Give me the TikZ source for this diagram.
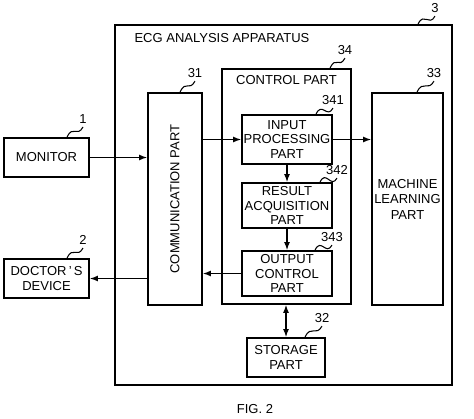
\documentclass[tikz,border=0pt]{standalone}
\usepackage{fontspec}
\setmainfont{Liberation Sans}
\usetikzlibrary{arrows.meta,calc}

\begin{document}
\begin{tikzpicture}[x=0.02cm, y=-0.02cm, ->, >={Latex[length=4.6pt,width=3.4pt]}, line width=0.8pt,
    every node/.style={font=\fontsize{7.4}{8.2}\selectfont, align=center},
    blk/.style={draw, line width=0.9pt, inner sep=0pt},
    num/.style={inner sep=0pt, outer sep=2pt},
    tilde/.style={-, line width=0.6pt}]
        \useasboundingbox (0,0) rectangle (474,419);

        % Draw the apparatus frame
        \node[blk, minimum width=6.74cm, minimum height=7.2cm] (app) at (283.5,205) {};
        \node[anchor=west] (title) at (128,38) {ECG ANALYSIS APPARATUS};

        % Draw the outside devices
        \node[blk, minimum width=1.7cm, minimum height=0.78cm] (mon) at (46.5,157.5) {MONITOR};
        \node[blk, minimum width=1.7cm, minimum height=0.78cm] (doc) at (46.5,278.5) {DOCTOR\,’\,S\\DEVICE};

        % Draw the parts of the apparatus
        \node[blk, minimum width=1.08cm, minimum height=4.24cm] (com) at (175,199) {};
        \node[rotate=90] (comtext) at (com.center) {COMMUNICATION PART};
        \node[blk, minimum width=2.58cm, minimum height=4.7cm] (ctl) at (286.5,186.5) {};
        \node (ctltext) at (286.5,80) {CONTROL PART};
        \node[blk, minimum width=1.42cm, minimum height=4.24cm, font=\fontsize{7.4}{8.8}\selectfont] (ml) at (407.5,199) {MACHINE\\LEARNING\\PART};
        \node[blk, minimum width=1.56cm, minimum height=0.78cm, font=\fontsize{7.4}{8.8}\selectfont] (sto) at (286,357.5) {STORAGE\\PART};

        % Draw the blocks inside the control part
        \node[blk, minimum width=1.8cm, minimum height=0.98cm] (inp) at (287,139.5) {INPUT\\PROCESSING\\PART};
        \node[blk, minimum width=1.8cm, minimum height=0.9cm] (res) at (287,205.5) {RESULT\\ACQUISITION\\PART};
        \node[blk, minimum width=1.8cm, minimum height=0.9cm] (outc) at (287,273.5) {OUTPUT\\CONTROL\\PART};

        % Draw the data arrows
        \draw (mon) -- (mon -| com.west);
        \draw (com.east |- inp) -- (inp);
        \draw (inp) -- (inp -| ml.west);
        \draw (inp) -- (res);
        \draw (res) -- (outc);
        \draw (outc) -- (outc -| com.east);
        \draw (com.west |- doc) -- (doc);
        \draw[<->] (ctl.south -| sto) -- (sto);

        % Draw the reference numbers and their tildes
        \foreach \bx/\nm/\sx/\nx/\ny in {app/3/418/435/8, mon/1/67/83/119, doc/2/67/83/240,
            com/31/180/195/73, ml/33/417/434/73, ctl/34/330/345/50, sto/32/305/322/318,
            inp/341/316/333/100, res/342/320/337/170, outc/343/315/332/237}{
            \node[num] (n\nm) at (\nx,\ny) {\nm};
            \draw[tilde] (\bx.north -| \sx,0) .. controls +(6,-13) and +(-6,11) .. (n\nm.south);
        }

        % Figure caption
        \node (fig) at (255,409) {FIG. 2};
    \end{tikzpicture}
\end{document}
